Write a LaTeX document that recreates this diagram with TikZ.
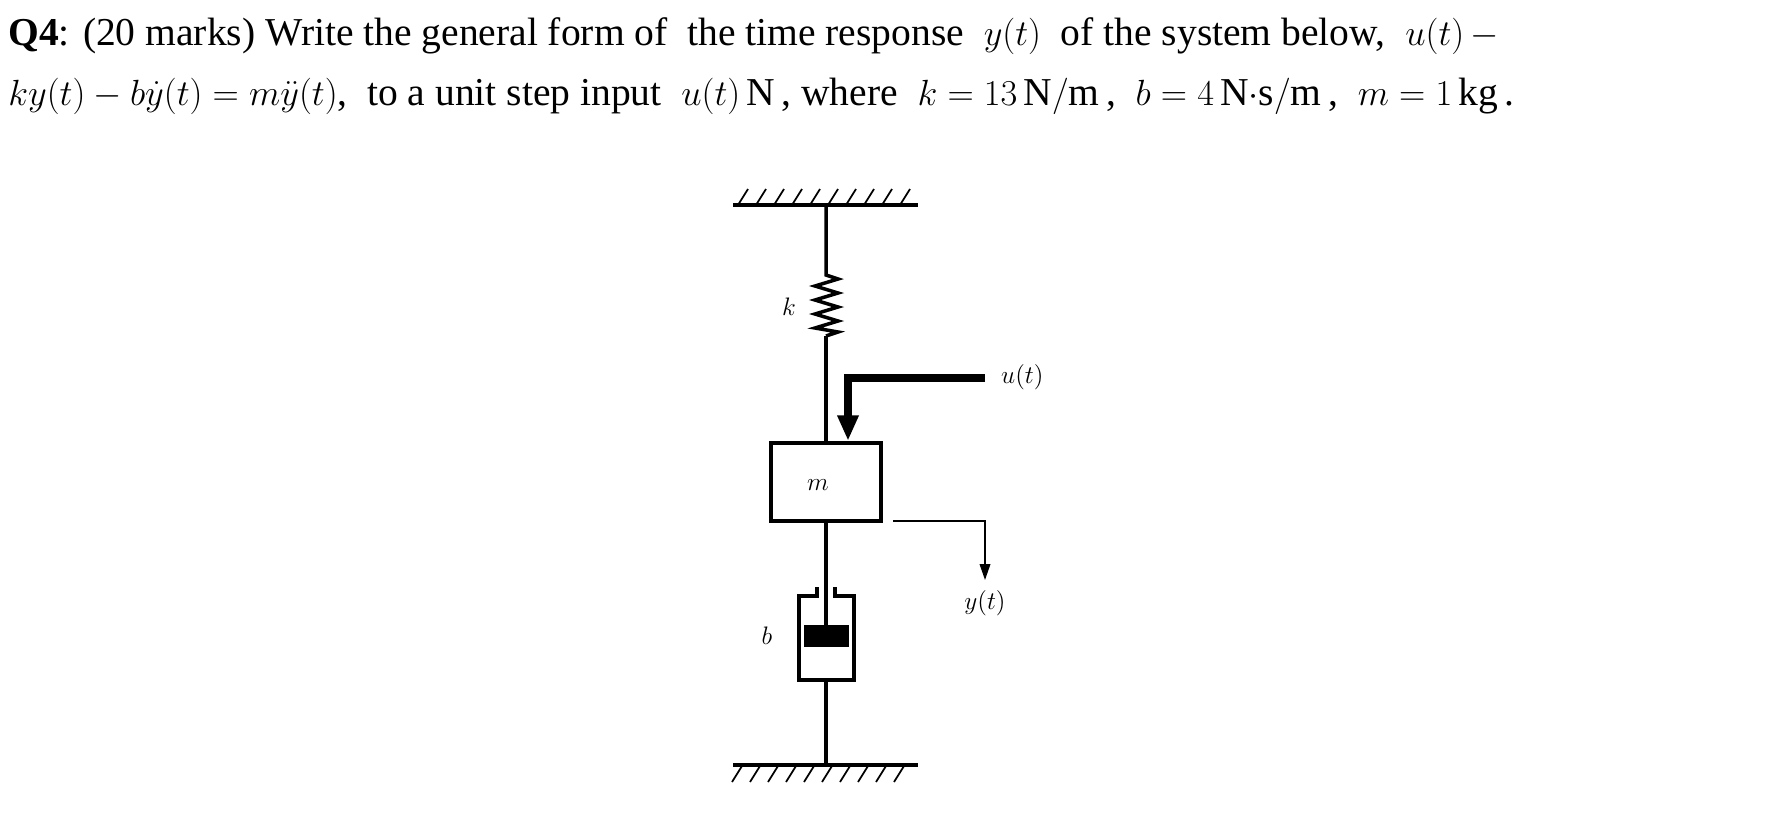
\documentclass[tikz,border=0pt]{standalone}
\usepackage{fontspec}
\setmainfont{Liberation Serif}
\usetikzlibrary{patterns,arrows.meta,decorations.pathmorphing}
\begin{document}
\begin{tikzpicture}[x=0.02cm,y=-0.02cm,
  lbl/.style={font=\fontsize{14}{16}\selectfont\itshape},
  mline/.style={line width=2pt},
  hatchline/.style={line width=1pt}]
\useasboundingbox (0,0) rectangle (1782,833);
% title
\node[anchor=base west,font=\fontsize{22.5}{26}\selectfont,inner sep=0] (l1) at (8,45)
 {\textbf{Q4}: (20 marks) Write the general form of \ the time response \ $y(t)$ \ of the system below, \ $u(t)\,-$};
\node[anchor=base west,font=\fontsize{22.5}{26}\selectfont,inner sep=0] (l2) at (8,105)
 {$ky(t)-b\dot y(t)=m\ddot y(t)$, \ to a unit step input \ $u(t)\,\mathrm{N}$\,, where \ $k=13\,\mathrm{N/m}$\,, \ $b=4\,\mathrm{N{\cdot}s/m}$\,, \ $m=1\,\mathrm{kg}$\,.};
% grounds
\coordinate (gt1) at (733,205); \coordinate (gt2) at (918,205);
\coordinate (gb1) at (733,765); \coordinate (gb2) at (918,765);
\draw[mline] (gt1) -- (gt2);
\draw[mline] (gb1) -- (gb2);
\foreach \x in {738,756,...,912} {
  \draw[hatchline] (\x,205) -- (\x+10,189);
  \draw[hatchline] (\x-6,782) -- (\x+4,766);
}
% spring
\coordinate (s0) at (826,205);
\coordinate (s1) at (826,275);
\coordinate (s2) at (826,336);
\draw[mline] (s0) -- (s1)
  -- (838,279) -- (815,286) -- (838,293) -- (815,300) -- (838,307) -- (815,314) -- (838,321) -- (815,328) -- (838,332) -- (s2);
\node (mass) [draw,mline,minimum width=2.2cm,minimum height=1.56cm,inner sep=0] at (826,482) {};
\node[lbl] (mlab) at (818,485) {$m$};
\draw[mline] (s2) -- (mass.north -| s2);
\node[lbl] (klab) at (789,307) {$k$};
% damper
\coordinate (dp) at (826,627);
\draw[mline] (mass.south) -- (dp);
\node (piston) [fill=black,minimum width=0.9cm,minimum height=0.44cm,inner sep=0] at (826,636) {};
\draw[mline] (817,587) -- (817,596) -- (799,596) -- (799,680) -- (854,680) -- (854,596) -- (835,596) -- (835,587);
\coordinate (dbot) at (826,680);
\draw[mline] (dbot) -- (gb1 -| dbot);
\node[lbl] (blab) at (767,636) {$b$};
% u(t)
\coordinate (u0) at (985,378);
\coordinate (u1) at (848,378);
\draw[line width=4pt] (u0) -- (u1) -- (848,420);
\draw[-{Triangle[width=12pt,length=14pt]},line width=2pt] (848,410) -- (848,440);
\node[lbl,anchor=west] (ulab) at (995,377) {$u(t)$};
% y(t)
\coordinate (y0) at (893,521);
\coordinate (y1) at (985,521);
\coordinate (y2) at (985,580);
\draw[line width=0.9pt,-{Triangle[width=6pt,length=9pt]}] (y0) -- (y1) -- (y2);
\node[lbl] (ylab) at (985,603) {$y(t)$};
\end{tikzpicture}
\end{document}
